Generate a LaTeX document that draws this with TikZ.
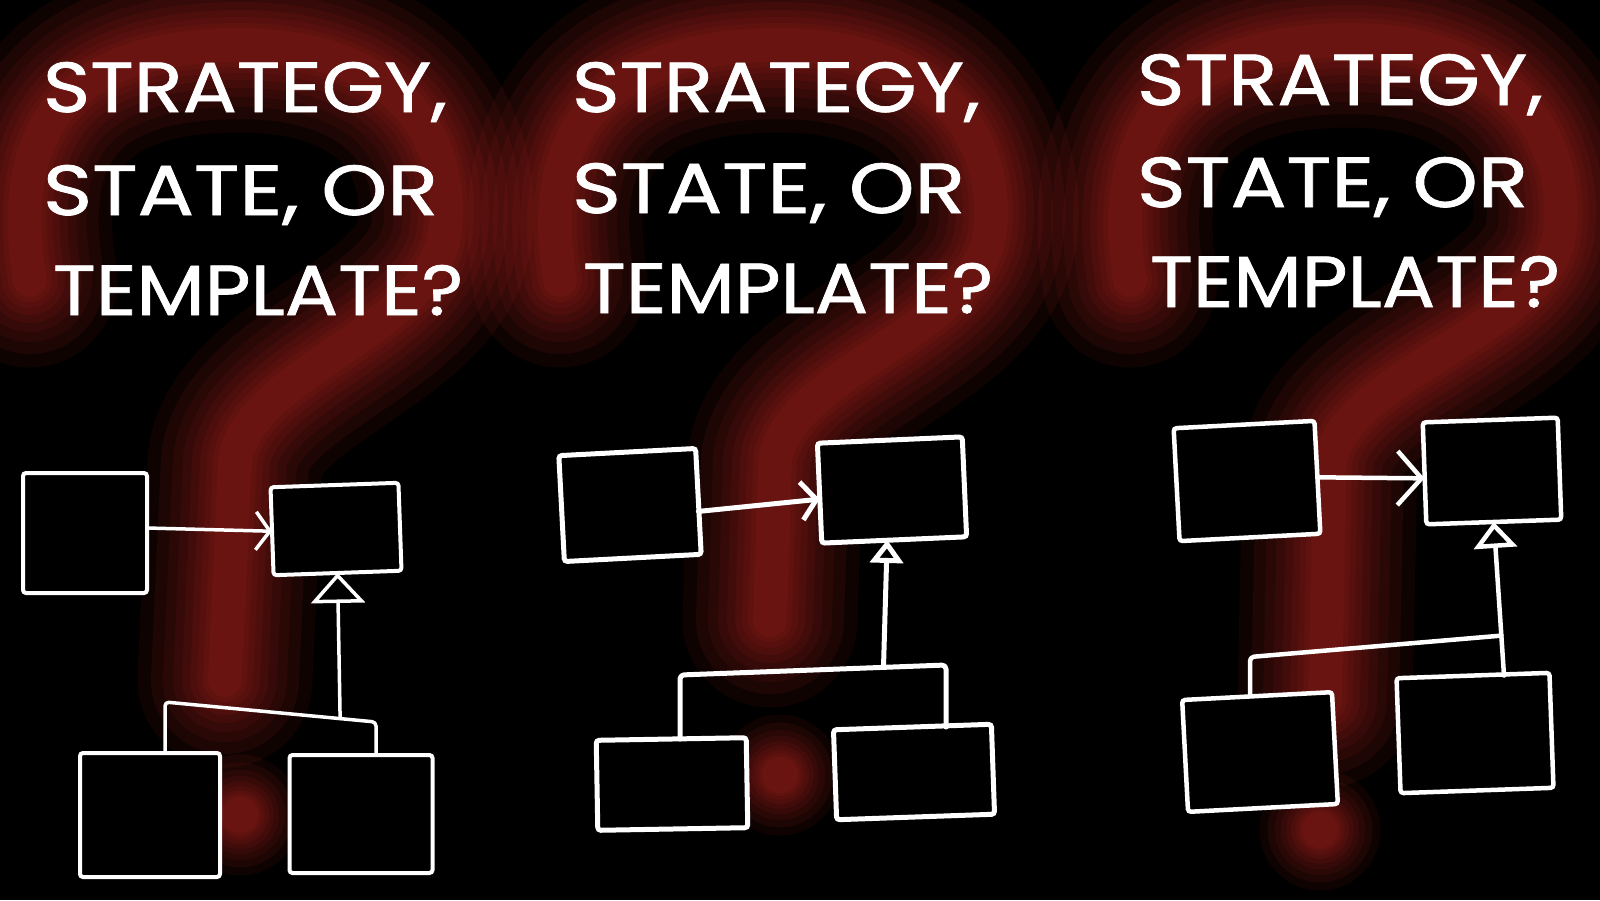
\documentclass[tikz,border=0pt]{standalone}
\usepackage{fontspec}
\newfontfamily\comic{Poppins}[FakeBold=1]
\usetikzlibrary{arrows.meta,calc}
\definecolor{qred}{RGB}{235,50,42}
\tikzset{
  qglow/.style={draw=qred, line cap=round, line join=round},
  umlbox/.style={draw=white, fill=black, line width=#1, rounded corners=3pt, inner sep=0pt, outer sep=0pt},
  wire/.style={draw=white, line width=#1, line cap=round, line join=round, rounded corners=4pt},
  ttl/.style={text=white, anchor=base west, inner sep=0pt, outer sep=0pt, font=\comic},
}
\newcommand\qmarkglow[2]{%
  \foreach \w in {175,148,124,104,86,70,56,44,34}{%
    \draw[qglow, line width=\w pt, opacity=0.065] #1;
    \fill[qred, opacity=0.065] #2 circle[radius=0.3*\w pt+8pt];
  }}
\begin{document}
\begin{tikzpicture}[x=1pt, y=-1pt]
\useasboundingbox (0,0) rectangle (1600,900);
\fill[black] (0,0) rectangle (1600,900);

% ---------- blurred question marks ----------
\qmarkglow{(30,280) .. controls (0,100) and (100,45) .. (240,45) .. controls (390,45) and (455,130) .. (445,230) .. controls (435,330) and (250,370) .. (235,460) -- (225,680)}{(240,815)}
\qmarkglow{(560,280) .. controls (530,100) and (640,45) .. (780,45) .. controls (930,45) and (1000,130) .. (990,230) .. controls (980,330) and (790,370) .. (775,460) -- (770,620)}{(780,775)}
\qmarkglow{(1130,280) .. controls (1100,100) and (1210,40) .. (1350,40) .. controls (1500,40) and (1570,130) .. (1560,230) .. controls (1550,330) and (1350,370) .. (1330,460) -- (1325,700)}{(1320,830)}

% ---------- titles ----------
\node[ttl] (t1a) at (43,112)  {\resizebox{404pt}{50pt}{STRATEGY,}};
\node[ttl] (t1b) at (43,215)  {\resizebox{395pt}{50pt}{STATE, OR}};
\node[ttl] (t1c) at (53,315)  {\resizebox{410pt}{50pt}{TEMPLATE?}};

\node[ttl] (t2a) at (572,112) {\resizebox{408pt}{50pt}{STRATEGY,}};
\node[ttl] (t2b) at (572,213) {\resizebox{393pt}{50pt}{STATE, OR}};
\node[ttl] (t2c) at (583,313) {\resizebox{410pt}{50pt}{TEMPLATE?}};

\node[ttl] (t3a) at (1137,105) {\resizebox{406pt}{51pt}{STRATEGY,}};
\node[ttl] (t3b) at (1137,207) {\resizebox{391pt}{50pt}{STATE, OR}};
\node[ttl] (t3c) at (1150,307) {\resizebox{410pt}{51pt}{TEMPLATE?}};

% ---------- panel 1 ----------
\node[umlbox=4pt, minimum width=124pt, minimum height=120pt] (A1) at (85,533) {};
\node[umlbox=4pt, minimum width=128pt, minimum height=88pt, rotate=2] (B1) at (336,529) {};
\node[umlbox=4pt, minimum width=140pt, minimum height=124pt] (C1) at (150,815) {};
\node[umlbox=4pt, minimum width=143pt, minimum height=118pt] (D1) at (361,814) {};
\draw[wire=3.5pt, -{Straight Barb[length=14pt,width=38pt]}] ([yshift=5pt]A1.east) -- (B1.west);
\coordinate (k1a) at (165,702);
\coordinate (k1b) at (376,722);
\draw[wire=3.5pt] (k1a |- C1.north) -- (k1a) -- (k1b) -- (k1b |- D1.north);
\coordinate (j1) at ($(k1a)!0.83!(k1b)$);
\draw[wire=3.5pt, -{Triangle[open,length=30pt,width=54pt,fill=black]}] (j1) -- (B1.south);

% ---------- panel 2 ----------
\node[umlbox=5pt, minimum width=137pt, minimum height=106pt, rotate=3] (A2) at (630,505) {};
\node[umlbox=5pt, minimum width=145pt, minimum height=100pt, rotate=2.5] (B2) at (892,490) {};
\node[umlbox=5pt, minimum width=150pt, minimum height=90pt, rotate=1] (C2) at (672,784) {};
\node[umlbox=5pt, minimum width=158pt, minimum height=90pt, rotate=2] (D2) at (914,772) {};
\draw[wire=5pt, -{Straight Barb[length=15pt,width=38pt]}] ([yshift=-10pt]A2.east) -- ([yshift=-6pt]B2.west);
\coordinate (k2a) at (680,675);
\coordinate (k2b) at (946,665);
\draw[wire=5pt] (k2a |- C2.north) -- (k2a) -- (k2b) -- (k2b |- D2.north);
\coordinate (j2) at ($(k2a)!0.765!(k2b)$);
\draw[wire=5pt, -{Triangle[open,length=23pt,width=33pt,fill=black]}] (j2) -- ([xshift=-7pt]B2.south);

% ---------- panel 3 ----------
\node[umlbox=4.5pt, minimum width=141pt, minimum height=113pt, rotate=3] (A3) at (1247,481) {};
\node[umlbox=4.5pt, minimum width=135pt, minimum height=102pt, rotate=2] (B3) at (1492,471) {};
\node[umlbox=4.5pt, minimum width=150pt, minimum height=112pt, rotate=3] (C3) at (1260,752) {};
\node[umlbox=4.5pt, minimum width=153pt, minimum height=115pt, rotate=2] (D3) at (1475,733) {};
\draw[wire=4.5pt, -{Straight Barb[length=24pt,width=54pt]}] (A3.east) -- ([yshift=-5pt]B3.west);
\coordinate (d3) at ([xshift=31pt]D3.north);
\draw[wire=4.5pt, -{Triangle[open,length=26pt,width=43pt,fill=black]}] (d3) -- (B3.south);
\coordinate (j3) at ($(d3)!0.26!(B3.south)$);
\coordinate (k3) at (1250,657);
\draw[wire=4.5pt] (j3) -- (k3) -- (k3 |- C3.north);
\end{tikzpicture}
\end{document}
